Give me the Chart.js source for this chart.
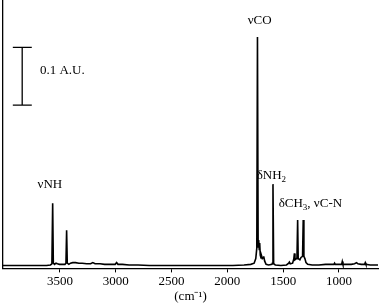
<!DOCTYPE html>
<html>
<head>
<meta charset="utf-8">
<script src="https://cdn.jsdelivr.net/npm/chart.js@4"></script>
<style>
  html, body { margin: 0; padding: 0; background: #fff; }
  #wrap { width: 380px; height: 303px; }
</style>
</head>
<body>
<div id="wrap"><canvas id="ir"></canvas></div>
<script>
'use strict';

// ── spectrum (wavenumber cm-1 / absorbance A.U.) ──
const wavenumbers = [
  4010, 3900, 3800, 3700, 3620, 3585, 3572, 3565, 3559, 3548,
  3535, 3522, 3505, 3480, 3455, 3446, 3440, 3434, 3420, 3405,
  3385, 3360, 3330, 3300, 3260, 3225, 3205, 3185, 3140, 3100,
  3040, 3005, 2992, 2980, 2940, 2880, 2800, 2700, 2500, 2300,
  2100, 1950, 1850, 1790, 1760, 1745, 1736, 1730, 1724, 1719,
  1714, 1710, 1705, 1698, 1692, 1686, 1680, 1674, 1666, 1653,
  1630, 1600, 1597, 1591, 1585, 1570, 1520, 1470, 1450, 1444,
  1436, 1415, 1404, 1399, 1394, 1382, 1376, 1370, 1365, 1350,
  1340, 1326, 1320, 1314, 1305, 1295, 1280, 1240, 1180, 1120,
  1060, 1045, 1039, 1033, 1010, 976, 970, 964, 930, 890,
  860, 842, 830, 800, 770, 764, 758, 720, 680, 650
];
const absorbance = [
  0.000, 0.000, 0.000, 0.000, 0.000, 0.001, 0.003, 0.108, 0.004, 0.002,
  0.004, 0.003, 0.002, 0.002, 0.002, 0.004, 0.061, 0.004, 0.002, 0.004,
  0.005, 0.005, 0.004, 0.004, 0.003, 0.003, 0.005, 0.003, 0.003, 0.002,
  0.002, 0.002, 0.005, 0.002, 0.002, 0.001, 0.001, 0.000, 0.000, 0.000,
  0.000, 0.000, 0.001, 0.002, 0.004, 0.012, 0.030, 0.396, 0.032, 0.044,
  0.028, 0.039, 0.018, 0.013, 0.016, 0.012, 0.013, 0.016, 0.008, 0.002,
  0.001, 0.002, 0.004, 0.141, 0.003, 0.001, 0.000, 0.001, 0.004, 0.006,
  0.003, 0.004, 0.012, 0.021, 0.010, 0.012, 0.014, 0.079, 0.012, 0.010,
  0.014, 0.016, 0.079, 0.016, 0.012, 0.005, 0.002, 0.001, 0.001, 0.002,
  0.002, 0.002, 0.004, 0.002, 0.002, 0.002, 0.007, 0.002, 0.002, 0.002,
  0.003, 0.005, 0.003, 0.002, 0.002, 0.005, 0.002, 0.001, 0.001, 0.001
];
const xTicks = [3500, 3000, 2500, 2000, 1500, 1000];

// band labels: text pieces ('sub' = subscript), anchored in data units
const bandLabels = [
  { parts: [['νCO']],                          x: 1710, y: 0.425, align: 'center' },
  { parts: [['νNH']],                          x: 3590, y: 0.141, align: 'center' },
  { parts: [['δNH'], ['2', 'sub']],            x: 1737, y: 0.155, align: 'left' },
  { parts: [['δCH'], ['3', 'sub'], [', νC-N']], x: 1540, y: 0.108, align: 'left' },
  { parts: [['0.1 A.U.']],                     x: 3679, y: 0.338, align: 'left' },
];
// 0.1 A.U. scale bar
const scaleBar = { x: 3838, capFrom: 3922, capTo: 3752, top: 0.378, size: 0.1 };

const SERIF = '"Liberation Serif", "Times New Roman", serif';

function drawParts(ctx, parts, x, y, align) {
  const main = '13px ' + SERIF, sub = '9px ' + SERIF;
  let width = 0;
  parts.forEach(([t, k]) => { ctx.font = k === 'sub' ? sub : main; width += ctx.measureText(t).width; });
  let cx = align === 'center' ? x - width / 2 : x;
  ctx.textBaseline = 'middle';
  ctx.textAlign = 'left';
  parts.forEach(([t, k]) => {
    ctx.font = k === 'sub' ? sub : main;
    ctx.fillText(t, cx, k === 'sub' ? y + 4 : y);
    cx += ctx.measureText(t).width;
  });
}

const annotations = {
  id: 'annotations',
  afterDraw(chart) {
    const { ctx, scales: { x, y } } = chart;
    ctx.save();
    ctx.fillStyle = '#000';
    bandLabels.forEach(l => drawParts(ctx, l.parts, x.getPixelForValue(l.x), y.getPixelForValue(l.y), l.align));

    // scale bar
    const bx = x.getPixelForValue(scaleBar.x);
    const c0 = x.getPixelForValue(scaleBar.capFrom), c1 = x.getPixelForValue(scaleBar.capTo);
    const yt = y.getPixelForValue(scaleBar.top), yb = y.getPixelForValue(scaleBar.top - scaleBar.size);
    ctx.strokeStyle = '#000';
    ctx.lineWidth = 1.3;
    ctx.beginPath();
    ctx.moveTo(bx, yt); ctx.lineTo(bx, yb);
    ctx.moveTo(c0, yt); ctx.lineTo(c1, yt);
    ctx.moveTo(c0, yb); ctx.lineTo(c1, yb);
    ctx.stroke();
    ctx.restore();
  }
};

new Chart(document.getElementById('ir'), {
  type: 'line',
  data: {
    datasets: [{
      data: wavenumbers.map((w, i) => ({ x: w, y: absorbance[i] })),
      borderColor: '#000',
      borderWidth: 1.6,
      pointRadius: 0,
      tension: 0,
      fill: false,
    }],
  },
  options: {
    responsive: true,
    maintainAspectRatio: false,
    animation: false,
    layout: { padding: { left: 3, right: 2, top: 0, bottom: 0 } },
    plugins: { legend: { display: false }, tooltip: { enabled: false } },
    scales: {
      x: {
        type: 'linear',
        reverse: true,
        min: 650,
        max: 4010,
        afterBuildTicks: scale => { scale.ticks = xTicks.map(v => ({ value: v })); },
        grid: { display: true, drawOnChartArea: false, drawTicks: true, tickLength: 4, color: '#000' },
        border: { display: true, color: '#000', width: 1.3 },
        ticks: {
          color: '#000', padding: 1, maxRotation: 0,
          font: { family: SERIF, size: 13 },
          callback: v => String(v),
        },
        title: {
          display: true,
          text: '(cm⁻¹)',
          color: '#000',
          padding: { top: 0, bottom: 0 },
          font: { family: SERIF, size: 13, lineHeight: 1.0 },
        },
      },
      y: {
        min: -0.005,
        max: 0.46,
        afterFit: s => { s.width = 0; },
        grid: { display: false },
        border: { display: true, color: '#000', width: 1.3 },
        ticks: { display: false },
      },
    },
  },
  plugins: [annotations],
});
</script>
</body>
</html>
